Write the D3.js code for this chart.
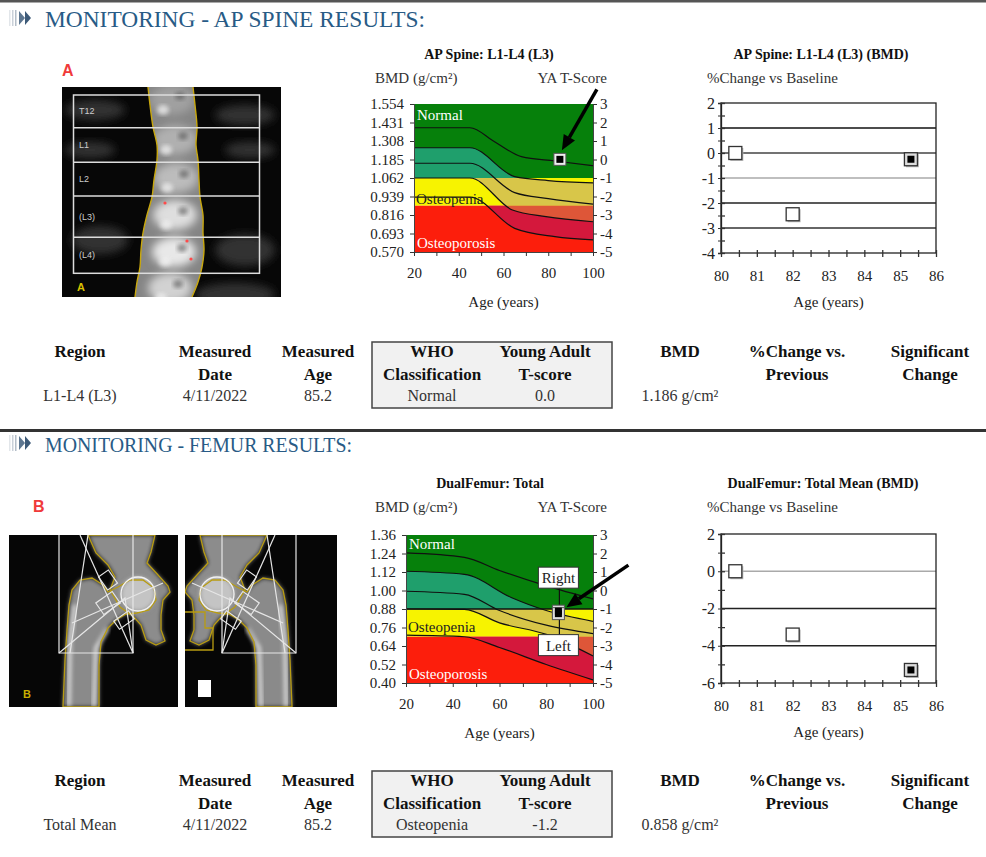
<!DOCTYPE html>
<html>
<head>
<meta charset="utf-8">
<script src="https://cdn.jsdelivr.net/npm/d3@7"></script>
<style>
body { margin: 0; background: #fff; }
svg text { font-family: "Liberation Serif", "DejaVu Serif", serif; }
svg text.sans { font-family: "Liberation Sans", Arial, sans-serif; }
</style>
</head>
<body>
<svg id="page" width="986" height="857"></svg>
<script>
// ---- AP spine reference curves, [age, BMD g/cm2], top to bottom ----
var spineC1 = [[20,1.396],[45,1.396],[56,1.303],[68,1.204],[83,1.175],[100,1.144]];
var spineC2 = [[20,1.263],[45,1.263],[65,1.071],[80,1.045],[100,1.029]];
var spineC3 = [[20,1.160],[45,1.160],[65,0.965],[80,0.925],[100,0.888]];
var spineC4 = [[20,1.062],[45,1.062],[64,0.849],[79,0.805],[100,0.771]];
var spineC5 = [[20,0.935],[45,0.935],[65,0.727],[83,0.672],[100,0.650]];
var spineBmdTicks = [0.570,0.693,0.816,0.939,1.062,1.185,1.308,1.431,1.554];
var spinePatient = [85.2, 1.186];

// ---- femur reference curves ----
var femurC1 = [[20,1.244],[45,1.215],[60,1.130],[80,1.030],[100,0.945]];
var femurC2 = [[20,1.125],[45,1.105],[65,0.955],[80,0.870],[100,0.800]];
var femurC3 = [[20,0.995],[45,0.975],[60,0.870],[80,0.775],[100,0.720]];
var femurC4 = [[20,0.880],[45,0.878],[60,0.790],[80,0.715],[100,0.575]];
var femurC5 = [[20,0.710],[45,0.700],[60,0.630],[80,0.520],[100,0.420]];
var femurBmdTicks = [0.40,0.52,0.64,0.76,0.88,1.00,1.12,1.24,1.36];
var femurHipNames = ["Right","Left"];
var femurHipBmd = [0.866, 0.850];
var femurAge = 85.2;

var tScoreTicks = [3,2,1,0,-1,-2,-3,-4,-5];
var ageTicks = [20,30,40,50,60,70,80,90,100];

// ---- % change vs baseline ----
var trendAges = [80.4, 82.0, 85.3];
var spineChange = [0.0, -2.45, -0.25];
var femurChange = [0.0, -3.4, -5.3];
var spineChangeLabels = [2,1,0,-1,-2,-3,-4];
var femurChangeLabels = [2,0,-2,-4,-6];
var spineChangeLines = [1,0,-1,-2,-3];
var femurChangeLines = [0,-2,-4];

// ---- result tables ----
var tableHead1 = ["Region","Measured","Measured","WHO","Young Adult","BMD","%Change vs.","Significant"];
var tableHead2 = ["","Date","Age","Classification","T-score","","Previous","Change"];
var spineRow = ["L1-L4 (L3)","4/11/2022","85.2","Normal","0.0","1.186 g/cm\u00b2","",""];
var femurRow = ["Total Mean","4/11/2022","85.2","Osteopenia","-1.2","0.858 g/cm\u00b2","",""];
var spineLevels = ["T12","L1","L2","(L3)","(L4)"];

var SERIF = '"Liberation Serif", "DejaVu Serif", serif';
var SANS = '"Liberation Sans", Arial, sans-serif';
var page = d3.select('#page');
var defs = page.append('defs');
defs.append('filter').attr('id','blur2').attr('x','-20%').attr('y','-20%').attr('width','140%').attr('height','140%')
	.append('feGaussianBlur').attr('stdDeviation',2);
defs.append('filter').attr('id','blur4').attr('x','-30%').attr('y','-30%').attr('width','160%').attr('height','160%')
	.append('feGaussianBlur').attr('stdDeviation',4);

function label(g, x, y, s, o) {
	o = o || {};
	return g.append('text').attr('x',x).attr('y',y)
		.attr('class', o.family == SANS ? 'sans' : null)
		.style('font-family', o.family || SERIF)
		.attr('font-size', o.size || 14)
		.attr('font-weight', o.weight || 'normal')
		.attr('fill', o.fill || '#222')
		.attr('text-anchor', o.anchor || 'start')
		.text(s);
}

function styleAxis(ax, size) {
	ax.attr('font-size', size || 14);
	ax.selectAll('text').style('font-family', SERIF).attr('fill','#222');
	ax.selectAll('line').attr('stroke','#333');
	ax.select('.domain').attr('stroke','#444');
}

function arrow(g, x1, y1, x2, y2) {
	var a = Math.atan2(y2-y1, x2-x1), len = 15, w = 6.5;
	var bx = x2 - len*Math.cos(a), by = y2 - len*Math.sin(a);
	g.append('line').attr('x1',x1).attr('y1',y1).attr('x2',bx).attr('y2',by)
		.attr('stroke','#000').attr('stroke-width',3.5);
	g.append('path').attr('fill','#000')
		.attr('d','M'+x2+','+y2+'L'+(bx+w*Math.sin(a))+','+(by-w*Math.cos(a))
			+'L'+(bx-w*Math.sin(a))+','+(by+w*Math.cos(a))+'Z');
}

// ---- page chrome ----
page.append('rect').attr('x',0).attr('y',0).attr('width',986).attr('height',2.5).attr('fill','#555');
page.append('rect').attr('x',0).attr('y',429).attr('width',986).attr('height',3).attr('fill','#333');

function sectionHeader(y, text, width, size) {
	var g = page.append('g');
	[9,12,15].forEach(function(x,i) {
		g.append('rect').attr('x',x).attr('y',y-17).attr('width',1.5).attr('height',16)
			.attr('fill','#8a9aaa').attr('opacity',0.25+i*0.2);
	});
	g.append('path').attr('d','M19,'+(y-16)+'L25,'+(y-9)+'L19,'+(y-2)+'Z').attr('fill','#5d7690');
	g.append('path').attr('d','M25,'+(y-16)+'L31,'+(y-9)+'L25,'+(y-2)+'Z').attr('fill','#3d5a78');
	label(g, 45, y, text, {size:size, fill:'#285b86'})
		.attr('textLength',width).attr('lengthAdjust','spacingAndGlyphs');
}
sectionHeader(27, 'MONITORING - AP SPINE RESULTS:', 380, 23);
sectionHeader(452, 'MONITORING - FEMUR RESULTS:', 307, 20);

// ---- BMD vs age chart ----
function bmdChart(cfg) {
	var g = page.append('g');
	var x = d3.scaleLinear().domain([20,100]).range([cfg.left, cfg.right]);
	var y = d3.scaleLinear().domain([cfg.ticks[0], cfg.ticks[cfg.ticks.length-1]]).range([cfg.bottom, cfg.top]);
	var t = d3.scaleLinear().domain([-5,3]).range([cfg.bottom, cfg.top]);
	var w = cfg.right - cfg.left;
	var zones = [
		{key:'g', hi:3, lo:-1, fill:'#06800b', band:'#1f9f6c'},
		{key:'y', hi:-1, lo:-2.5, fill:'#f7f300', band:'#d8c649'},
		{key:'r', hi:-2.5, lo:-5, fill:'#fc1e0c', band:'#de5638'}
	];
	defs.append('clipPath').attr('id',cfg.id+'all').append('rect')
		.attr('x',cfg.left).attr('y',cfg.top).attr('width',w).attr('height',cfg.bottom-cfg.top);
	zones.forEach(function(z) {
		defs.append('clipPath').attr('id',cfg.id+z.key).append('rect')
			.attr('x',cfg.left).attr('y',t(z.hi)).attr('width',w).attr('height',t(z.lo)-t(z.hi));
		g.append('rect').attr('x',cfg.left).attr('y',t(z.hi)).attr('width',w)
			.attr('height',t(z.lo)-t(z.hi)).attr('fill',z.fill);
	});
	var line = d3.line().x(function(p){return x(p[0]);}).y(function(p){return y(p[1]);})
		.curve(d3.curveMonotoneX);
	function between(a, b) {
		return line(a) + line(b.slice().reverse()).replace(/^M/,'L') + 'Z';
	}
	var c = cfg.curves;
	zones.forEach(function(z) {
		g.append('path').attr('d',between(c[1],c[3])).attr('fill',z.band)
			.attr('clip-path','url(#'+cfg.id+z.key+')');
	});
	g.append('path').attr('d',between(c[3],c[4])).attr('fill','#d4183c')
		.attr('clip-path','url(#'+cfg.id+'r)');
	var lines = g.append('g').attr('clip-path','url(#'+cfg.id+'all)');
	c.forEach(function(cv) {
		lines.append('path').attr('d',line(cv)).attr('fill','none')
			.attr('stroke','#111').attr('stroke-width',1.2);
	});
	if (cfg.boundaryLine)
		lines.append('line').attr('x1',cfg.left).attr('x2',cfg.right)
			.attr('y1',t(-1)).attr('y2',t(-1)).attr('stroke','#111').attr('stroke-width',1.4);

	label(g, cfg.left+3, cfg.top+cfg.normalDy, 'Normal', {size:15, fill:'#fff'});
	label(g, cfg.left+2, cfg.penia, 'Osteopenia', {size:15, fill:'#222'});
	label(g, cfg.left+3, cfg.bottom-4, 'Osteoporosis', {size:15, fill:'#fff'});

	var ax = g.append('g').attr('transform','translate('+cfg.left+',0)')
		.call(d3.axisLeft(y).tickValues(cfg.ticks).tickFormat(d3.format(cfg.fmt)).tickSize(4).tickPadding(6));
	styleAxis(ax, 15);
	var ar = g.append('g').attr('transform','translate('+cfg.right+',0)')
		.call(d3.axisRight(t).tickValues(tScoreTicks).tickFormat(function(d){return String(d);}).tickSize(4).tickPadding(3));
	styleAxis(ar, 15);
	var ab = g.append('g').attr('transform','translate(0,'+cfg.bottom+')')
		.call(d3.axisBottom(x).tickValues(ageTicks)
			.tickFormat(function(d){return d % 20 == 0 ? d : '';}).tickSize(4).tickPadding(11));
	styleAxis(ab, 15);

	label(g, cfg.titleX, cfg.titleY, cfg.title, {size:14, weight:'bold', anchor:'middle', fill:'#111'});
	label(g, 375, cfg.titleY+24, 'BMD (g/cm\u00b2)', {size:15, fill:'#333'});
	label(g, 607, cfg.titleY+24, 'YA T-Score', {size:15, fill:'#333', anchor:'end'});
	label(g, (cfg.left+cfg.right)/2, cfg.bottom+55, 'Age (years)', {size:15, anchor:'middle', fill:'#222'});
	return {g:g, x:x, y:y};
}

var spine = bmdChart({id:'sp', left:414, right:593, top:104, bottom:252,
	ticks:spineBmdTicks, fmt:'.3f', curves:[spineC1,spineC2,spineC3,spineC4,spineC5],
	normalDy:16, penia:204, title:'AP Spine: L1-L4 (L3)', titleX:489, titleY:59});

var femur = bmdChart({id:'fm', left:406, right:593, top:535, bottom:683,
	ticks:femurBmdTicks, fmt:'.2f', curves:[femurC1,femurC2,femurC3,femurC4,femurC5],
	normalDy:14, penia:632, boundaryLine:true, title:'DualFemur: Total', titleX:490, titleY:488});

// spine patient marker + arrow
(function() {
	var mx = spine.x(spinePatient[0]), my = spine.y(spinePatient[1]);
	spine.g.append('rect').attr('x',mx-6).attr('y',my-6).attr('width',12).attr('height',12)
		.attr('fill','#eee').attr('stroke','#555').attr('stroke-width',1);
	spine.g.append('rect').attr('x',mx-3.5).attr('y',my-3.5).attr('width',7).attr('height',7).attr('fill','#000');
	arrow(spine.g, mx+37, my-70, mx+2, my-9);
})();

// femur hips marker, labels + arrow
(function() {
	var mx = femur.x(femurAge);
	var yR = femur.y(femurHipBmd[0]), yL = femur.y(femurHipBmd[1]);
	var boxR = yR - 33, boxL = yL + 32;
	femur.g.append('line').attr('x1',mx+1).attr('x2',mx+1).attr('y1',boxR).attr('y2',boxL)
		.attr('stroke','#111').attr('stroke-width',1.2);
	femurHipBmd.forEach(function(v) {
		femur.g.append('rect').attr('x',mx-6).attr('y',femur.y(v)-6).attr('width',12).attr('height',12)
			.attr('fill','#ddd').attr('stroke','#555');
	});
	femurHipBmd.forEach(function(v) {
		femur.g.append('rect').attr('x',mx-3.5).attr('y',femur.y(v)-3.5).attr('width',7).attr('height',7).attr('fill','#000');
	});
	[[boxR, femurHipNames[0]],[boxL, femurHipNames[1]]].forEach(function(b) {
		femur.g.append('rect').attr('x',mx-20).attr('y',b[0]-11).attr('width',40).attr('height',21)
			.attr('fill','#fff').attr('stroke','#333').attr('stroke-width',1);
		label(femur.g, mx, b[0]+5, b[1], {size:15, anchor:'middle', fill:'#222'});
	});
	arrow(femur.g, mx+70, yR-46, mx+8, yR-4);
})();

// ---- % change vs baseline chart ----
function trendChart(cfg) {
	var g = page.append('g');
	var x = d3.scaleLinear().domain([80,86]).range([721,936]);
	var y = d3.scaleLinear().domain([cfg.min, cfg.max]).range([cfg.bottom, cfg.top]);
	cfg.lines.forEach(function(v, i) {
		g.append('line').attr('x1',x(80)).attr('x2',x(86)).attr('y1',y(v)).attr('y2',y(v))
			.attr('stroke',cfg.lineColours[i]).attr('stroke-width',1.6);
	});
	g.append('rect').attr('x',x(80)).attr('y',y(cfg.max)).attr('width',x(86)-x(80))
		.attr('height',y(cfg.min)-y(cfg.max)).attr('fill','none').attr('stroke','#222').attr('stroke-width',1.3);
	var minor = d3.range(cfg.min, cfg.max + 0.01, cfg.step);
	var ay = g.append('g').attr('transform','translate(721,0)')
		.call(d3.axisLeft(y).tickValues(minor)
			.tickFormat(function(d){return cfg.labels.indexOf(d) >= 0 ? String(d) : '';})
			.tickSize(3).tickPadding(3));
	styleAxis(ay, 16);
	ay.select('.domain').attr('stroke','#222').attr('stroke-width',1.3);
	var ay2 = g.append('g').attr('transform','translate(721,0)')
		.call(d3.axisRight(y).tickValues(minor).tickFormat('').tickSize(4));
	ay2.selectAll('line').attr('stroke','#333').attr('stroke-width',1.3);
	ay2.select('.domain').remove();
	var xs = d3.range(80, 86.01, 0.5);
	var ax = g.append('g').attr('transform','translate(0,'+cfg.bottom+')')
		.call(d3.axisBottom(x).tickValues(xs)
			.tickFormat(function(d){return d % 1 == 0 ? d : '';}).tickSize(4).tickPadding(13));
	styleAxis(ax, 15);
	ax.selectAll('line').attr('stroke-width',1.3);
	ax.select('.domain').remove();
	var ax2 = g.append('g').attr('transform','translate(0,'+cfg.bottom+')')
		.call(d3.axisTop(x).tickValues(xs).tickFormat('').tickSize(3));
	ax2.selectAll('line').attr('stroke','#333').attr('stroke-width',1.3);
	ax2.select('.domain').remove();

	cfg.values.forEach(function(v, i) {
		var px = x(trendAges[i]), py = y(v);
		var last = i == cfg.values.length - 1;
		g.append('rect').attr('x',px-5).attr('y',py-5).attr('width',13).attr('height',13).attr('fill','#bbb');
		g.append('rect').attr('x',px-6.5).attr('y',py-6.5).attr('width',13).attr('height',13)
			.attr('fill', last ? '#ddd' : '#fff').attr('stroke','#333').attr('stroke-width',1.3);
		if (last)
			g.append('rect').attr('x',px-3.5).attr('y',py-3.5).attr('width',7).attr('height',7).attr('fill','#000');
	});

	label(g, cfg.titleX, cfg.titleY, cfg.title, {size:14, weight:'bold', anchor:'middle', fill:'#111'});
	label(g, 707, cfg.titleY+24, '%Change vs Baseline', {size:15, fill:'#333'});
	label(g, 828.5, cfg.bottom+54, 'Age (years)', {size:15, anchor:'middle', fill:'#222'});
}

trendChart({top:103, bottom:253, min:-4, max:2, step:0.5, labels:spineChangeLabels,
	lines:spineChangeLines, lineColours:['#111','#444','#aaa','#222','#333'],
	values:spineChange, title:'AP Spine: L1-L4 (L3) (BMD)', titleX:821, titleY:59});
trendChart({top:534, bottom:683, min:-6, max:2, step:1, labels:femurChangeLabels,
	lines:femurChangeLines, lineColours:['#aaa','#222','#222'],
	values:femurChange, title:'DualFemur: Total Mean (BMD)', titleX:823, titleY:488});

// ---- result tables ----
var colX = [80, 215, 318, 432, 545, 680, 797, 930];
function resultTable(top, row) {
	var g = page.append('g');
	g.append('rect').attr('x',372).attr('y',top).attr('width',240).attr('height',66)
		.attr('fill','#f1f1f1').attr('stroke','#444').attr('stroke-width',1.5);
	colX.forEach(function(cx, i) {
		label(g, cx, top+15, tableHead1[i], {size:17, weight:'bold', anchor:'middle', fill:'#111'});
		label(g, cx, top+38, tableHead2[i], {size:17, weight:'bold', anchor:'middle', fill:'#111'});
		label(g, cx, top+59, row[i], {size:16, anchor:'middle', fill:'#333'});
	});
}
resultTable(342, spineRow);
resultTable(771, femurRow);

// ---- scan images (stylised) ----
label(page, 62, 76, 'A', {family:SANS, size:16, weight:'bold', fill:'#f03a3a'});
label(page, 33, 512, 'B', {family:SANS, size:16, weight:'bold', fill:'#f03a3a'});

(function spineScan() {
	var g = page.append('g');
	defs.append('clipPath').attr('id','spImg').append('rect').attr('x',62).attr('y',87).attr('width',219).attr('height',210);
	g.append('rect').attr('x',62).attr('y',87).attr('width',219).attr('height',210).attr('fill','#070707');
	var inner = g.append('g').attr('clip-path','url(#spImg)');
	// faint ribs / soft tissue
	[[95,110,30,10],[245,115,30,10],[90,150,25,8],[250,150,25,8],[100,240,28,14],[245,250,30,16],[235,295,40,12]].forEach(function(e) {
		inner.append('ellipse').attr('cx',e[0]).attr('cy',e[1]).attr('rx',e[2]).attr('ry',e[3])
			.attr('fill','#333').attr('filter','url(#blur4)');
	});
	var leftEdge = [[148,87],[150,105],[153,127],[157,145],[157,160],[154,180],[152,197],[147,215],[143,233],[141,250],[140,267],[137,282],[135,297]];
	var rightEdge = [[193,87],[195,105],[197,127],[196,145],[198,160],[199,180],[200,197],[203,215],[203,233],[204,250],[202,267],[198,282],[192,297]];
	var edge = d3.line().curve(d3.curveCatmullRom);
	var col = edge(leftEdge) + edge(rightEdge.slice().reverse()).replace(/^M/,'L') + 'Z';
	defs.append('clipPath').attr('id','spCol').append('path').attr('d',col);
	inner.append('path').attr('d',col).attr('fill','#858585');
	var bodies = inner.append('g').attr('clip-path','url(#spCol)');
	[[172,100,'#a0a0a0'],[175,140,'#b0b0b0'],[176,178,'#bcbcbc'],[175,215,'#dedede'],[174,252,'#e8e8e8'],[170,288,'#d2d2d2']].forEach(function(v) {
		bodies.append('ellipse').attr('cx',v[0]).attr('cy',v[1]).attr('rx',22).attr('ry',15)
			.attr('fill',v[2]).attr('filter','url(#blur4)');
		bodies.append('ellipse').attr('cx',v[0]-9).attr('cy',v[1]+10).attr('rx',6).attr('ry',5)
			.attr('fill','#f4f4f4').attr('opacity',0.7).attr('filter','url(#blur2)');
		bodies.append('ellipse').attr('cx',v[0]+8).attr('cy',v[1]-4).attr('rx',5).attr('ry',4)
			.attr('fill','#555').attr('opacity',0.6).attr('filter','url(#blur2)');
	});
	inner.append('path').attr('d',edge(leftEdge)).attr('fill','none').attr('stroke','#c9a80e').attr('stroke-width',1.4);
	inner.append('path').attr('d',edge(rightEdge)).attr('fill','none').attr('stroke','#c9a80e').attr('stroke-width',1.4);
	var rows = [95, 127.7, 162.3, 196, 237.3, 273.3];
	g.append('rect').attr('x',73.5).attr('y',95).attr('width',186).attr('height',178.3)
		.attr('fill','none').attr('stroke','#ddd').attr('stroke-width',1.5);
	rows.slice(1,5).forEach(function(r) {
		g.append('line').attr('x1',73.5).attr('x2',259.5).attr('y1',r).attr('y2',r)
			.attr('stroke','#ddd').attr('stroke-width',1.5);
	});
	spineLevels.forEach(function(s, i) {
		label(g, 79, (rows[i]+rows[i+1])/2+3, s, {family:SANS, size:9, fill:'#ccc'});
	});
	[[165,203],[187,241],[191,259]].forEach(function(p) {
		g.append('circle').attr('cx',p[0]).attr('cy',p[1]).attr('r',1.6).attr('fill','#ff4a4a');
	});
	label(g, 77, 291, 'A', {family:SANS, size:11, weight:'bold', fill:'#d8c000'});
})();

(function femurScans() {
	var pelvis = 'M88,535L155,535L151,552L147,563L158,575L168,586L170,592L163,600L161,615L161,630L165,641L156,645L146,640L141,625L133,616L120,607L110,590L115,577L108,565L96,553Z';
	var bone = 'M63,707L65,660L67,630L69,605L72,590L80,580L92,578L103,585L108,592L118,587L130,580L143,580L154,588L156,600L149,610L137,613L126,614L116,620L108,628L101,642L99,665L99,707Z';
	var panels = [{id:'fA', x:9, w:169, t:''}, {id:'fB', x:185, w:152, t:'translate(355,0) scale(-1,1)'}];
	panels.forEach(function(p, k) {
		defs.append('clipPath').attr('id',p.id).append('rect').attr('x',p.x).attr('y',535).attr('width',p.w).attr('height',172);
		var g = page.append('g');
		g.append('rect').attr('x',p.x).attr('y',535).attr('width',p.w).attr('height',172).attr('fill','#060606');
		var inner = g.append('g').attr('clip-path','url(#'+p.id+')').append('g').attr('transform',p.t);
		inner.append('path').attr('d',pelvis).attr('fill','#8c8c8c').attr('filter','url(#blur2)');
		inner.append('path').attr('d',bone).attr('fill','#8a8a8a').attr('filter','url(#blur2)');
		inner.append('circle').attr('cx',138).attr('cy',594).attr('r',17).attr('fill','#c4c4c4').attr('filter','url(#blur2)');
		inner.append('path').attr('d','M69,707L70,640L75,605').attr('fill','none').attr('stroke','#eee').attr('stroke-width',3).attr('filter','url(#blur2)');
		inner.append('path').attr('d','M94,707L96,648L108,628').attr('fill','none').attr('stroke','#eee').attr('stroke-width',3).attr('filter','url(#blur2)');
		inner.append('path').attr('d',pelvis).attr('fill','none').attr('stroke','#b89c12').attr('stroke-width',1.3);
		inner.append('path').attr('d',bone).attr('fill','none').attr('stroke','#b89c12').attr('stroke-width',1.3);
		inner.append('circle').attr('cx',138).attr('cy',594).attr('r',17).attr('fill','none').attr('stroke','#f2f2f2').attr('stroke-width',1.3);
		var roi = inner.append('g').attr('fill','none').attr('stroke','#e6e6e6').attr('stroke-width',1.2);
		roi.append('path').attr('d','M59,535L59,653L133,653L133,535');
		roi.append('path').attr('d','M59,653L125,598L133,653');
		roi.append('path').attr('d','M80,535L133,653');
		roi.append('path').attr('d','M88,535L70,653');
		roi.append('path').attr('d','M72,623L163,583');
		roi.append('rect').attr('x',-10).attr('y',-7).attr('width',20).attr('height',14)
			.attr('transform','translate(108,603) rotate(-35)');
		roi.append('rect').attr('x',-8).attr('y',-6).attr('width',16).attr('height',12)
			.attr('transform','translate(108,580) rotate(55)');
		roi.append('rect').attr('x',-9).attr('y',-5).attr('width',18).attr('height',10)
			.attr('transform','translate(124,620) rotate(-35)');
		if (k == 0) {
			label(g, 23, 698, 'B', {family:SANS, size:11, weight:'bold', fill:'#c8b000'});
		} else {
			g.append('path').attr('d','M185,612L205,612L205,628L213,628L213,650L185,650')
				.attr('fill','none').attr('stroke','#b89c12').attr('stroke-width',1.3);
			g.append('rect').attr('x',198).attr('y',680).attr('width',13).attr('height',17).attr('fill','#fff');
		}
	});
})();
</script>
</body>
</html>
